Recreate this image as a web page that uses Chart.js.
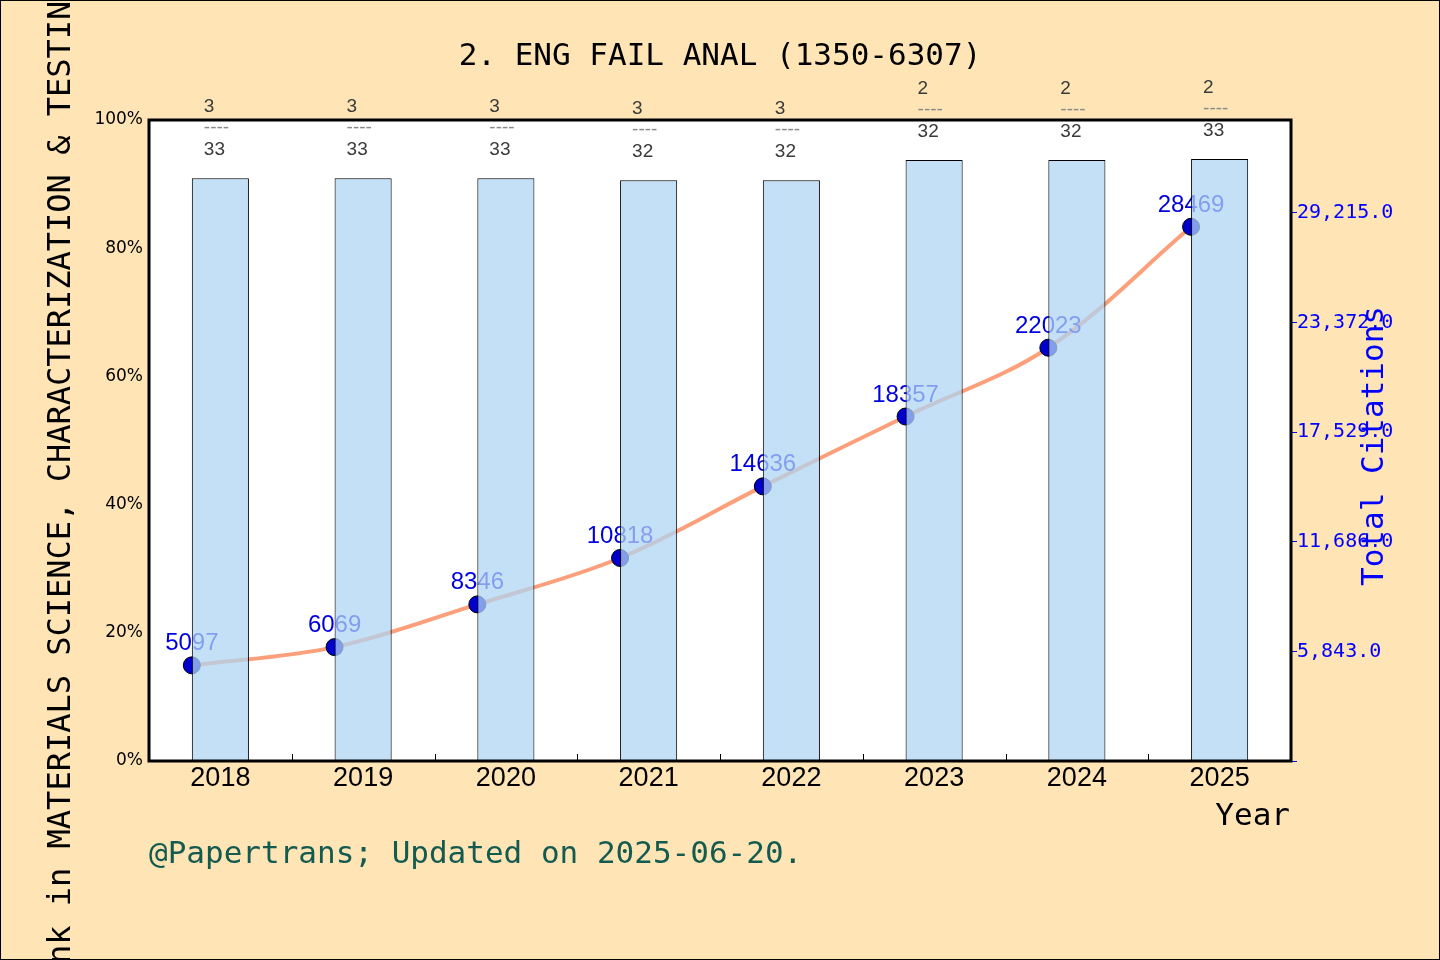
<!DOCTYPE html>
<html>
<head>
<meta charset="utf-8">
<style>
  html, body { margin: 0; padding: 0; background: #FFE4B5; }
  canvas { display: block; }
</style>
<script src="https://cdn.jsdelivr.net/npm/chart.js@4.4.1/dist/chart.umd.min.js"></script>
</head>
<body>
<canvas id="rankChart" width="1440" height="960"></canvas>
<script>
const years = ["2018", "2019", "2020", "2021", "2022", "2023", "2024", "2025"];
const ranks = [3, 3, 3, 3, 3, 2, 2, 2];
const totals = [33, 33, 33, 32, 32, 32, 32, 33];
const rankShare = [0.909, 0.909, 0.909, 0.906, 0.906, 0.9375, 0.9375, 0.939];
const citations = [5097, 6069, 8346, 10818, 14636, 18357, 22023, 28469];
const rightTickValues = [0, 5843, 11686, 17529, 23372, 29215];
const rightTickLabels = ["", "5,843.0", "11,686.0", "17,529.0", "23,372.0", "29,215.0"];
const leftTickValues = [0, 0.2, 0.4, 0.6, 0.8, 1.0];

const MONO = "'DejaVu Sans Mono', monospace";
const SANS = "'Liberation Sans', Arial, sans-serif";

const chartCanvas = document.getElementById("rankChart");

// backgrounds, frame, texts around the plot
const decorPlugin = {
  id: "decor",
  beforeDraw(chart) {
    const { ctx, chartArea } = chart;
    ctx.save();
    ctx.fillStyle = "#FFE4B5";
    ctx.fillRect(0, 0, chart.width, chart.height);
    ctx.fillStyle = "#ffffff";
    ctx.fillRect(chartArea.left, chartArea.top, chartArea.right - chartArea.left, chartArea.bottom - chartArea.top);
    ctx.restore();
  },
  afterDraw(chart) {
    const { ctx, chartArea } = chart;
    ctx.save();

    // minor ticks at category boundaries
    const step = (chartArea.right - chartArea.left) / years.length;
    ctx.strokeStyle = "#000";
    ctx.lineWidth = 1;
    for (let k = 1; k < years.length; k++) {
      const x = Math.round(chartArea.left + k * step) + 0.5;
      ctx.beginPath();
      ctx.moveTo(x, chartArea.bottom);
      ctx.lineTo(x, chartArea.bottom - 7);
      ctx.stroke();
    }

    // plot frame
    ctx.lineWidth = 3;
    ctx.strokeRect(chartArea.left, chartArea.top, chartArea.right - chartArea.left, chartArea.bottom - chartArea.top);

    // rank labels above bars
    const barMeta = chart.getDatasetMeta(0);
    ctx.font = "19px " + SANS;
    ctx.textAlign = "left";
    ctx.textBaseline = "alphabetic";
    barMeta.data.forEach((bar, i) => {
      const left = bar.x - bar.width / 2 + 12;
      const top = bar.y;
      ctx.fillStyle = "#3a3a3a";
      ctx.fillText(String(totals[i]), left, top - 23);
      ctx.fillText(String(ranks[i]), left, top - 66);
      ctx.fillStyle = "#8a8a8a";
      ctx.fillText("----", left, top - 45);
    });

    // title
    ctx.fillStyle = "#000";
    ctx.font = "31px " + MONO;
    ctx.textAlign = "center";
    ctx.textBaseline = "middle";
    ctx.fillText("2. ENG FAIL ANAL (1350-6307)", 720, 57);

    // x axis title
    ctx.textAlign = "right";
    ctx.fillText("Year", 1290, 817);

    // footer
    ctx.fillStyle = "#135a4f";
    ctx.textAlign = "left";
    ctx.fillText("@Papertrans; Updated on 2025-06-20.", 149, 855);

    // right axis title
    ctx.save();
    ctx.translate(1375, 446);
    ctx.rotate(-Math.PI / 2);
    ctx.fillStyle = "#0000ff";
    ctx.textAlign = "center";
    ctx.fillText("Total Citations", 0, 0);
    ctx.restore();

    // left axis title
    ctx.save();
    ctx.translate(62, 492);
    ctx.rotate(-Math.PI / 2);
    ctx.fillStyle = "#000";
    ctx.font = "32px " + MONO;
    ctx.textAlign = "center";
    ctx.fillText("Rank in MATERIALS SCIENCE, CHARACTERIZATION & TESTING", 0, 0);
    ctx.restore();

    // outer border
    ctx.lineWidth = 1;
    ctx.strokeStyle = "#000";
    ctx.strokeRect(0.5, 0.5, chart.width - 1, chart.height - 1);
    ctx.restore();
  }
};

// value labels for the line, drawn before the bars so bars overlay them
const lineLabelPlugin = {
  id: "lineLabels",
  afterDatasetDraw(chart, args) {
    if (args.index !== 1) {
      return;
    }
    const { ctx } = chart;
    ctx.save();
    ctx.fillStyle = "rgb(0, 0, 220)";
    ctx.font = "24px " + SANS;
    ctx.textAlign = "center";
    ctx.textBaseline = "alphabetic";
    args.meta.data.forEach((pt, i) => {
      ctx.fillText(String(citations[i]), pt.x, pt.y - 15);
    });
    ctx.restore();
  }
};

new Chart(chartCanvas, {
  data: {
    labels: years,
    datasets: [
      {
        type: "bar",
        label: "Rank",
        data: rankShare,
        xAxisID: "x",
        yAxisID: "y",
        backgroundColor: "rgba(176, 213, 244, 0.74)",
        borderColor: "#000000",
        borderWidth: 1,
        inflateAmount: 0,
        grouped: false,
        barPercentage: 0.4,
        categoryPercentage: 1.0,
        order: 1
      },
      {
        type: "line",
        label: "Total Citations",
        data: citations.map((v, i) => ({ x: i - 0.2, y: v })),
        xAxisID: "xl",
        yAxisID: "y2",
        borderColor: "#FBA07A",
        borderWidth: 4,
        tension: 0.35,
        pointRadius: 8.5,
        pointBackgroundColor: "#0000CD",
        pointBorderColor: "#000000",
        pointBorderWidth: 1,
        fill: false,
        order: 2
      }
    ]
  },
  options: {
    responsive: false,
    devicePixelRatio: 1,
    animation: false,
    layout: {
      padding: { left: 0, right: 0, top: 120, bottom: 159 }
    },
    plugins: {
      legend: { display: false },
      tooltip: { enabled: false }
    },
    scales: {
      x: {
        type: "category",
        offset: true,
        grid: { display: false, drawTicks: false },
        border: { display: false },
        ticks: {
          color: "#000",
          font: { family: SANS, size: 27 },
          padding: 1,
          maxRotation: 0
        },
        afterFit(scale) {
          scale.height = 40;
        }
      },
      xl: {
        type: "linear",
        display: false,
        min: -0.5,
        max: 7.5
      },
      y: {
        position: "left",
        min: 0,
        max: 1,
        grid: { display: false, drawTicks: false },
        border: { display: false },
        afterBuildTicks(scale) {
          scale.ticks = leftTickValues.map((v) => ({ value: v }));
        },
        ticks: {
          color: "#000",
          font: { family: "'DejaVu Sans', sans-serif", size: 17 },
          padding: 6,
          callback(value) {
            return Math.round(value * 100) + "%";
          }
        },
        afterFit(scale) {
          scale.width = 149;
        }
      },
      y2: {
        position: "right",
        min: 0,
        max: 34160,
        grid: { drawOnChartArea: false, drawTicks: true, tickLength: 6, color: "#0000ff" },
        border: { display: false },
        afterBuildTicks(scale) {
          scale.ticks = rightTickValues.map((v) => ({ value: v }));
        },
        ticks: {
          color: "#0000ff",
          font: { family: MONO, size: 20 },
          padding: 0,
          callback(value, index) {
            return rightTickLabels[index];
          }
        },
        afterFit(scale) {
          scale.width = 149;
        }
      }
    }
  },
  plugins: [decorPlugin, lineLabelPlugin]
});
</script>
</body>
</html>
